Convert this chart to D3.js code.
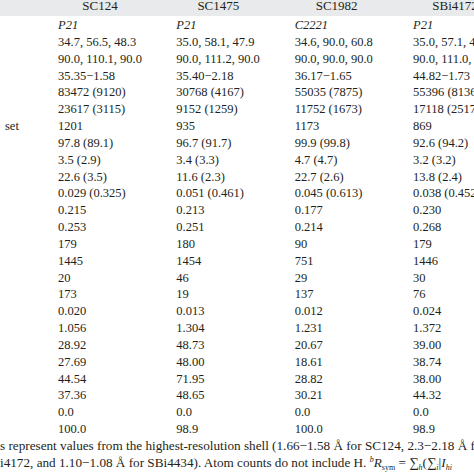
<!DOCTYPE html>
<html><head><meta charset="utf-8">
<script src="https://cdn.jsdelivr.net/npm/d3@7"></script>
<style>body{margin:0;background:#fff}text{font-family:"Liberation Serif",serif;fill:#231f20}</style>
</head><body><div id="c"></div>
<script>
const columns = ['SC124', 'SC1475', 'SC1982', 'SBi4172'];
const rowLabels = ['', '', '', '', '', '', 'set', '', '', '', '', '', '', '', '', '', '', '', '', '', '', '', '', '', ''];
const sc124 = ['P21', '34.7, 56.5, 48.3', '90.0, 110.1, 90.0', '35.35−1.58', '83472 (9120)', '23617 (3115)', '1201', '97.8 (89.1)', '3.5 (2.9)', '22.6 (3.5)', '0.029 (0.325)', '0.215', '0.253', '179', '1445', '20', '173', '0.020', '1.056', '28.92', '27.69', '44.54', '37.36', '0.0', '100.0'];
const sc1475 = ['P21', '35.0, 58.1, 47.9', '90.0, 111.2, 90.0', '35.40−2.18', '30768 (4167)', '9152 (1259)', '935', '96.7 (91.7)', '3.4 (3.3)', '11.6 (2.3)', '0.051 (0.461)', '0.213', '0.251', '180', '1454', '46', '19', '0.013', '1.304', '48.73', '48.00', '71.95', '48.65', '0.0', '98.9'];
const sc1982 = ['C2221', '34.6, 90.0, 60.8', '90.0, 90.0, 90.0', '36.17−1.65', '55035 (7875)', '11752 (1673)', '1173', '99.9 (99.8)', '4.7 (4.7)', '22.7 (2.6)', '0.045 (0.613)', '0.177', '0.214', '90', '751', '29', '137', '0.012', '1.231', '20.67', '18.61', '28.82', '30.21', '0.0', '100.0'];
const sbi4172 = ['P21', '35.0, 57.1, 47.9', '90.0, 111.0, 90.0', '44.82−1.73', '55396 (8136)', '17118 (2517)', '869', '92.6 (94.2)', '3.2 (3.2)', '13.8 (2.4)', '0.038 (0.452)', '0.230', '0.268', '179', '1446', '30', '76', '0.024', '1.372', '39.00', '38.74', '38.00', '44.32', '0.0', '98.9'];
const footnote1 = 's represent values from the highest-resolution shell (1.66−1.58 Å for SC124, 2.3−2.18 Å for SC1475,';
const footnote2 = 'i4172, and 1.10−1.08 Å for SBi4434). Atom counts do not include H. ';

const W = 474, H = 474;
const svg = d3.select('#c').append('svg').attr('width', W).attr('height', H);

const colData = [sc124, sc1475, sc1982, sbi4172];
const x = d3.scalePoint().domain(columns).range([58, 413]);
const y = d3.scaleLinear().domain([0, sc124.length - 1]).range([25, 429]);

// header band
svg.append('rect').attr('x', 0).attr('y', 0).attr('width', W).attr('height', 16).attr('fill', '#e9eaeb');
svg.append('g').selectAll('text').data(columns).join('text')
  .attr('x', (d) => x(d) + 42).attr('y', 10)
  .attr('text-anchor', 'middle').attr('font-size', 13)
  .text((d) => d);

// body cells
columns.forEach((c, i) => {
  svg.append('g').selectAll('text').data(colData[i]).join('text')
    .attr('x', x(c)).attr('y', (d, j) => y(j) + 4)
    .attr('font-size', 12.5)
    .attr('font-style', (d, j) => (j === 0 ? 'italic' : null))
    .text((d) => d);
});

svg.append('g').selectAll('text').data(rowLabels).join('text')
  .attr('x', 5).attr('y', (d, j) => y(j) + 4)
  .attr('font-size', 12.5)
  .text((d) => d);

// footnote
svg.append('text').attr('x', 0).attr('y', 450).attr('font-size', 13.2).text(footnote1);
const f2 = svg.append('text').attr('x', 0).attr('y', 467).attr('font-size', 13.2);
f2.append('tspan').text(footnote2);
f2.append('tspan').attr('font-style', 'italic').attr('font-size', 8).attr('dy', -5).text('b');
f2.append('tspan').attr('font-style', 'italic').attr('dy', 5).text('R');
f2.append('tspan').attr('font-size', 8).attr('dy', 3).text('sym');
f2.append('tspan').attr('dy', -3).text(' = ∑');
f2.append('tspan').attr('font-style', 'italic').attr('font-size', 8).attr('dy', 3).text('h');
f2.append('tspan').attr('dy', -3).text('(∑');
f2.append('tspan').attr('font-style', 'italic').attr('font-size', 8).attr('dy', 3).text('i');
f2.append('tspan').attr('dy', -3).text('|');
f2.append('tspan').attr('font-style', 'italic').text('I');
f2.append('tspan').attr('font-style', 'italic').attr('font-size', 8).attr('dy', 3).text('hi');
</script></body></html>
